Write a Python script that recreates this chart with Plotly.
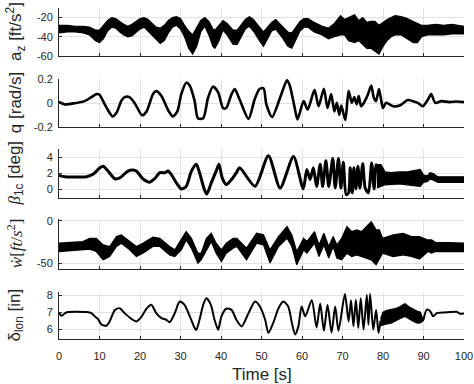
import plotly.graph_objects as go

# ---------------- data ----------------
# Panel 1: a_z [ft/s^2] -- noisy band: time, lower and upper envelope
az_t = [0, 2, 4, 6, 7.5, 9, 10, 11, 12, 13, 14, 15, 16, 17, 18, 19, 20, 21, 22, 23, 24, 25, 26, 27, 28, 29, 30,
        31, 32, 33, 34, 35, 36, 37, 38, 38.5, 39.5, 40.5, 41.5, 43, 44, 45, 46, 47, 48, 49.5, 50.5, 51.5, 52.5,
        53.5, 55, 56.5, 57.5, 58.5, 59.5, 60.5, 61.5, 63, 65, 66.5, 68, 69.5, 70.5, 71.5, 73, 74, 75, 76, 77, 78,
        79, 80, 81, 82, 83, 84.5, 86, 87.5, 88.5, 89.5, 91, 93, 95, 97, 100]
az_hi = [-28, -28, -29, -29, -30, -33, -33, -28, -23, -20, -21, -24, -27, -29, -27, -24, -21, -20, -22, -26, -30,
         -31, -28, -23, -20, -19, -21, -28, -34, -38, -30, -23, -20, -24, -32, -33, -28, -23, -26, -33, -33, -28,
         -22, -19, -22, -30, -35, -30, -25, -22, -29, -35, -36, -30, -24, -21, -21, -25, -29, -31, -26, -18, -22,
         -20, -17, -23, -20, -25, -24, -24, -28, -25, -22, -20, -18, -19, -21, -24, -26, -28, -28, -27, -28, -27,
         -29]
az_lo = [-36, -35, -35, -36, -38, -44, -46, -42, -34, -30, -31, -35, -38, -40, -39, -36, -32, -30, -34, -38, -43,
         -47, -44, -36, -30, -28, -32, -40, -52, -58, -50, -35, -29, -38, -50, -52, -44, -33, -38, -48, -48, -40,
         -32, -29, -34, -44, -50, -42, -34, -32, -40, -50, -52, -44, -34, -30, -30, -35, -38, -42, -40, -38, -38,
         -44, -46, -44, -48, -52, -52, -55, -58, -50, -44, -40, -38, -38, -42, -46, -46, -40, -38, -38, -38, -37,
         -37]

# Panel 2: q [rad/s]
q_t = [0, 1.4, 3.9, 6.3, 8, 9.2, 10, 11.3, 12.5, 13.2, 14.2, 15.4, 16.2, 17.4, 18.7, 20.5, 21.6, 23.2, 24, 25.3,
       26.9, 28.1, 29.2, 30.2, 31.4, 32.3, 33.5, 34.3, 35.6, 36.8, 38, 39.3, 40.5, 41.3, 42.6, 43.4, 44.6, 46.8,
       48.3, 49.5, 50.5, 51.2, 52.6, 54.9, 56.3, 57, 58.2, 58.9, 60.4, 61.4, 63.1, 64.1, 65.4, 66.3, 67.2, 68,
       68.6, 69.2, 69.7, 70.7, 71.5, 72.3, 72.9, 73.5, 74, 74.6, 75.5, 76.3, 77.1, 77.7, 78.3, 79, 79.6, 80, 80.8,
       82.5, 84.1, 86.1, 87.4, 88.6, 89.8, 91.1, 91.9, 92.9, 94.4, 96.4, 98.1, 100]
q_v = [0.01, -0.01, 0, 0.017, 0.05, 0.075, 0.07, -0.01, -0.08, -0.11, -0.08, 0.02, 0.05, 0.05, 0, -0.1, -0.07,
       0.075, 0.1, 0.06, -0.055, -0.11, -0.07, 0.075, 0.17, 0.145, 0.017, -0.125, -0.125, 0.045, 0.137, 0.09,
       -0.04, -0.04, 0.075, 0.117, 0.03, -0.13, 0.03, 0.117, 0.124, -0.01, -0.115, 0.075, 0.19, 0.145, -0.04,
       -0.134, 0.017, -0.054, 0.11, -0.026, 0.12, -0.04, 0.075, -0.069, 0.003, -0.097, -0.02, -0.14, 0.103,
       0.003, 0.05, -0.01, 0.06, -0.026, 0.017, 0.075, 0.146, 0.05, 0.017, 0.118, 0.017, -0.04, 0.003, -0.026,
       -0.02, 0.026, 0.017, 0.003, -0.026, 0.03, 0.075, 0.003, 0.017, 0.009, 0.014, 0.009]

# Panel 3: beta_1c [deg] -- line part, then noisy band part
b_t = [0, 1.5, 6.8, 8.4, 10.1, 10.9, 12.1, 13.8, 15, 17, 18.3, 19.1, 20.7, 22.4, 23.6, 24.9, 26.1, 26.9, 27.7, 29,
       30.2, 31.4, 32.7, 33.9, 34.7, 35.9, 36.5, 37.6, 38.8, 39.5, 40.3, 41.3, 42.6, 43.8, 44.6, 48.4, 51.7, 54.6,
       57.9, 60.3, 61.2, 62.0, 62.8, 63.6, 64.5, 65.1, 65.9, 66.6, 67.6, 68.2, 69.0, 69.6, 70.2, 70.9, 71.5, 71.9,
       72.4, 72.8, 73.3, 73.8, 74.3, 75.0, 75.6, 76.4, 77.2, 77.8, 78.3, 78.9, 79.4]
b_v = [1.77, 1.6, 1.6, 1.9, 2.7, 2.9, 2.3, 1.35, 1.45, 2.3, 2.44, 2.3, 1.35, 0.92, 1.35, 2.1, 2.1, 2.3, 1.9, 0.84,
       0.09, 0.4, 2.3, 3.15, 2.1, 0, -0.55, 0.84, 2.3, 3.15, 1.45, 0.63, 1.26, 2.1, 2.7, 0.42, 4.2, 0.2, 4.1, 0.1,
       2.5, 1.26, 2.7, 0.4, 3.15, 0.4, 3.57, 0.4, 3.87, 0.2, 3.87, 0.2, 3.4, -0.63, -0.4, 2.7, -0.4, 2.7, 0.09,
       2.9, 0.2, 3.2, 0.2, -0.4, 3.3, 0.09, 3.1, 2.1, 3.1]
bb_t = [78.5, 79.5, 80.5, 82, 84, 86, 88, 89.2, 90, 91, 91.6, 92.4, 93.5, 95, 97, 100]
bb_hi = [3.1, 3.1, 2.2, 2.1, 2.2, 2.2, 2.4, 2.5, 1.8, 1.7, 2.1, 2.0, 1.6, 1.6, 1.6, 1.6]
bb_lo = [0.2, 0.4, 0.6, 0.6, 0.7, 0.6, 0.5, 0.4, 0.9, 1.0, 1.3, 1.2, 0.9, 0.9, 0.9, 0.9]

# Panel 4: w-dot [ft/s^2] -- noisy band
wd_t = [0, 5.9, 7.6, 9.2, 10.9, 12.5, 14.2, 15.4, 17, 19.1, 20.7, 23.2, 24.9, 27.3, 28.6, 30.2, 31.4, 32.7, 34.3,
        35.1, 36.4, 37.6, 38.8, 40.1, 41.3, 43, 43.9, 46.3, 48.8, 50.5, 52.1, 54.2, 56.3, 57.5, 58.7, 60.4, 61.2,
        63.1, 64.2, 65.4, 66.6, 67.7, 68.6, 69.8, 71.1, 72.3, 73.5, 74.7, 75.8, 77.1, 78.3, 79.1, 79.9, 82.5, 85,
        87, 89, 91.1, 92, 93, 96, 100]
wd_hi = [-26.4, -24.4, -20.5, -20.5, -28.4, -30.3, -18.5, -16.5, -22.5, -30.3, -26.4, -19.3, -20.5, -30.3, -34.3,
         -22.5, -12.6, -20.5, -38.2, -38.2, -20.5, -14.6, -26.4, -34.3, -26.4, -20.5, -20.5, -32.3, -14.6, -16.5,
         -34.3, -18.5, -6.7, -16.5, -36.3, -20.5, -24.4, -12.6, -28.4, -14.6, -30.3, -18.5, -28.4, -20.5, -6.7,
         -12.6, -10.6, -12.6, -6.7, -0.8, -10.6, -10.6, -20.5, -16.5, -14.6, -18.5, -18.5, -22.5, -22.5, -25.6,
         -25.6, -26.4]
wd_lo = [-36.3, -34.3, -33.5, -36.3, -46.1, -42.2, -30.3, -26.4, -32.3, -42.2, -38.2, -30.3, -30.3, -40.2, -42.2,
         -34.3, -22.5, -32.3, -50, -46.1, -34.3, -24.4, -38.2, -48.1, -38.2, -32.3, -30.3, -46.1, -26.4, -28.4,
         -50, -30.3, -20.5, -30.3, -52, -34.3, -38.2, -26.4, -42.2, -28.4, -44.1, -30.3, -44.1, -46.1, -38.2,
         -42.2, -40.2, -42.2, -44.1, -46.1, -52, -46.1, -38.2, -42.2, -40.2, -42.2, -45.3, -36.3, -38.2, -36.3,
         -36.3, -36.3]

# Panel 5: delta_lon [in] -- line, noisy band, line
d_t = [0, 0.6, 1.4, 2.2, 6.8, 8.0, 8.8, 9.6, 10.5, 11.7, 12.5, 13.8, 15.0, 16.2, 17.9, 19.1, 20.3, 21.6, 22.8, 24.0,
       25.3, 26.5, 27.3, 28.6, 29.8, 31.0, 32.3, 33.5, 33.9, 34.7, 35.6, 36.4, 37.5, 38.4, 39.3, 40.1, 41.3, 42.6,
       43.8, 45.1, 46.8, 48.4, 49.6, 50.9, 51.7, 52.9, 54.2, 55.4, 56.6, 57.5, 58.3, 59.1, 59.9, 60.8, 62.4, 63.6,
       64.5, 65.4, 66.3, 67.3, 68.2, 69.0, 70.6, 71.5, 72.1, 72.7, 73.3, 73.9, 74.5, 75.2, 76.0, 76.4, 76.8, 77.6,
       78.3, 78.9, 79.4]
d_v = [6.94, 6.78, 6.92, 7.0, 7.0, 6.94, 6.75, 6.6, 6.26, 6.2, 6.45, 7.13, 7.23, 6.94, 6.6, 6.45, 6.7, 7.2, 7.43,
       6.94, 6.65, 6.55, 6.4, 6.94, 7.62, 7.43, 6.75, 6.07, 5.94, 6.55, 7.43, 7.82, 7.43, 6.55, 5.96, 6.75, 7.2,
       7.13, 6.55, 6.16, 6.94, 7.62, 7.33, 6.55, 5.78, 6.36, 7.23, 7.62, 7.33, 6.36, 5.68, 6.16, 7.33, 6.75, 7.7,
       6.1, 7.5, 5.9, 7.43, 5.8, 7.33, 5.9, 8.07, 6.45, 7.7, 6.16, 7.72, 6.07, 7.82, 5.97, 8.0, 6.26, 8.07, 5.97,
       7.13, 5.77, 6.5]
db_t = [79.4, 80, 81, 82, 83, 84, 85.4, 86.5, 87.5, 88.5, 89.2, 90]
db_hi = [6.6, 7.0, 7.1, 7.15, 7.2, 7.3, 7.5, 7.3, 7.15, 7.05, 7.0, 6.6]
db_lo = [6.2, 6.25, 6.3, 6.35, 6.45, 6.6, 6.75, 6.6, 6.45, 6.35, 6.36, 6.5]
d2_t = [90, 90.8, 91.6, 92.4, 93.3, 96.6, 98.2, 99, 100]
d2_v = [6.55, 7.15, 7.07, 6.75, 6.94, 7.0, 7.02, 6.9, 6.92]

# axis ticks / labels
x_ticks = [0, 10, 20, 30, 40, 50, 60, 70, 80, 90, 100]
x_ticktext = ["0", "10", "20", "30", "40", "50", "60", "70", "80", "90", "100"]
y_ranges = [[-60, -10], [-0.2, 0.2005], [-1, 5], [-57, 2], [5.4, 8.2]]
y_tickvals = [[-60, -40, -20], [-0.2, 0, 0.2], [0, 2, 4], [-50, 0], [6, 7, 8]]
y_ticktext = [["-60", "-40", "-20"], ["-0.2", "0", "0.2"], ["0", "2", "4"], ["-50", "0"], ["6", "7", "8"]]
y_titles = [
    "a<sub>z</sub> [ft/s<sup>2</sup>]",
    "q [rad/s]",
    "<span style='font-family:Liberation Serif;font-style:italic'>β</span><sub>1c</sub> [deg]",
    "<i>ẇ</i>[<i>ft</i>/<i>s</i><sup>2</sup>]",
    "δ<sub>lon</sub> [in]",
]
x_title = "Time [s]"

# ---------------- figure ----------------
W, H = 474, 384
ML, MR = 59, 10
panel_px = [(8, 56), (79, 127.3), (149.3, 197.7), (219.3, 269), (291.7, 339.3)]
PW = W - ML - MR
INK = "#262626"
GRID = "#e2e2e2"

fig = go.Figure()


def axn(i):
    return ("x", "y") if i == 0 else (f"x{i+1}", f"y{i+1}")


def add_band(i, t, lo, hi):
    xa, ya = axn(i)
    fig.add_trace(go.Scatter(x=list(t) + list(t)[::-1], y=list(hi) + list(lo)[::-1],
                             fill="toself", fillcolor="black", mode="lines",
                             line=dict(color="black", width=1.2),
                             xaxis=xa, yaxis=ya, hoverinfo="skip", showlegend=False))


def add_line(i, t, v, width):
    xa, ya = axn(i)
    fig.add_trace(go.Scatter(x=t, y=v, mode="lines",
                             line=dict(color="black", width=width, shape="spline", smoothing=0.7),
                             xaxis=xa, yaxis=ya, hoverinfo="skip", showlegend=False))


add_band(0, az_t, az_lo, az_hi)
add_line(1, q_t, q_v, 2.6)
add_line(2, b_t, b_v, 3.0)
add_band(2, bb_t, bb_lo, bb_hi)
add_band(3, wd_t, wd_lo, wd_hi)
add_line(4, d_t, d_v, 2.0)
add_band(4, db_t, db_lo, db_hi)
add_line(4, d2_t, d2_v, 2.0)

layout = {}
for i, (top, bot) in enumerate(panel_px):
    xk = "xaxis" if i == 0 else f"xaxis{i+1}"
    yk = "yaxis" if i == 0 else f"yaxis{i+1}"
    xa, ya = axn(i)
    layout[xk] = dict(domain=[0, 1], range=[0, 100], anchor=ya, tickvals=x_ticks, ticktext=x_ticktext,
                      showticklabels=(i == 4), ticks="inside", ticklen=3, tickcolor=INK, tickwidth=1,
                      showline=True, linecolor=INK, linewidth=1, showgrid=True, gridcolor=GRID,
                      gridwidth=1, zeroline=False, ticklabelstandoff=6, fixedrange=True,
                      automargin=False)
    layout[yk] = dict(domain=[1 - bot / H, 1 - top / H], range=y_ranges[i], anchor=xa,
                      tickvals=y_tickvals[i], ticktext=y_ticktext[i], ticks="inside", ticklen=3,
                      tickcolor=INK, tickwidth=1, showline=True, linecolor=INK, linewidth=1,
                      showgrid=True, gridcolor=GRID, gridwidth=1, zeroline=False,
                      ticklabelstandoff=3, fixedrange=True, automargin=False)

annotations = []
for i, (top, bot) in enumerate(panel_px):
    fam = "Liberation Serif, serif" if i == 3 else "Liberation Sans, Arial, sans-serif"
    annotations.append(dict(text=y_titles[i], xref="paper", yref="paper",
                            x=(15 - ML) / PW, y=1 - (top + bot) / 2 / H,
                            xanchor="center", yanchor="middle", textangle=-90, showarrow=False,
                            font=dict(size=17, color=INK, family=fam)))
annotations.append(dict(text=x_title, xref="paper", yref="paper", x=(262 - ML) / PW,
                        y=1 - 374 / H, xanchor="center", yanchor="middle", showarrow=False,
                        font=dict(size=17, color=INK, family="Liberation Sans, Arial, sans-serif")))

fig.update_layout(template="none", width=W, height=H,
                  margin=dict(l=ML, r=MR, t=0, b=0, pad=0, autoexpand=False),
                  paper_bgcolor="white", plot_bgcolor="white",
                  font=dict(family="Liberation Sans, Arial, sans-serif", size=11, color=INK),
                  annotations=annotations, showlegend=False, **layout)

# remove the browser's default 8px body margin so the figure sits at the page origin
fig.write_html("out.html", config={"displayModeBar": False, "staticPlot": True},
               post_script="document.body.style.margin='0';document.body.style.overflow='hidden';")
